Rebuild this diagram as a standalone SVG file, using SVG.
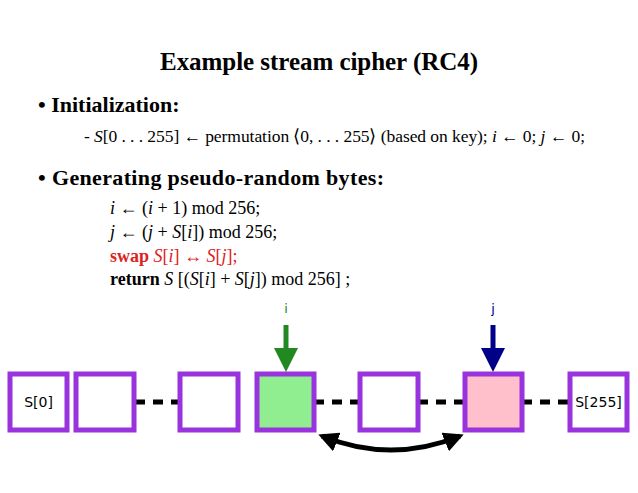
<svg xmlns="http://www.w3.org/2000/svg" width="638" height="493" viewBox="0 0 638 493">
<style>
.t{font-family:"Liberation Serif",serif;fill:#000}
.b{font-weight:bold}
.m{font-style:italic}
.box{fill:#fff;stroke:#9933dd;stroke-width:5}
.lbl{font-family:"DejaVu Sans",sans-serif;font-size:14px;text-anchor:middle}
.dash{stroke:#000;stroke-width:5;stroke-dasharray:10,8;fill:none}
</style>
<defs>
<marker id="ah" viewBox="0 0 10 10" refX="8" refY="5" markerWidth="4" markerHeight="4" orient="auto-start-reverse"><path d="M0,0L10,5L0,10z" fill="#000"/></marker>
</defs>
<rect width="638" height="493" fill="#fff"/>
<text class="t b" x="319" y="70" font-size="25" text-anchor="middle" textLength="318">Example stream cipher (RC4)</text>
<text class="t b" x="38" y="112" font-size="22">• Initialization:</text>
<text class="t" x="84" y="142" font-size="17.5" textLength="501">- <tspan class="m">S</tspan>[0 . . . 255] ← permutation ⟨0, . . . 255⟩ (based on key); <tspan class="m">i</tspan> ← 0; <tspan class="m">j</tspan> ← 0;</text>
<text class="t b" x="38" y="185" font-size="22" textLength="346">• Generating pseudo-random bytes:</text>
<g class="t" font-size="18">
<text x="110" y="214"><tspan class="m">i</tspan> ← (<tspan class="m">i</tspan> + 1) mod 256;</text>
<text x="110" y="238"><tspan class="m">j</tspan> ← (<tspan class="m">j</tspan> + <tspan class="m">S</tspan>[<tspan class="m">i</tspan>]) mod 256;</text>
<text x="110" y="262" style="fill:#dd2222"><tspan class="b">swap</tspan> <tspan class="m">S</tspan>[<tspan class="m">i</tspan>] ↔ <tspan class="m">S</tspan>[<tspan class="m">j</tspan>];</text>
<text x="110" y="285"><tspan class="b">return</tspan> <tspan class="m">S</tspan> [(<tspan class="m">S</tspan>[<tspan class="m">i</tspan>] + <tspan class="m">S</tspan>[<tspan class="m">j</tspan>]) mod 256] ;</text>
</g>
<g id="connectors">
<path class="dash" d="M135,402H180M314,402H360M418,402H465M522,402H570"/>
<line x1="286" y1="325" x2="286" y2="360" stroke="#228822" stroke-width="5"/>
<path d="M274,348L298,348L286,372z" fill="#228822"/>
<line x1="493" y1="325" x2="493" y2="360" stroke="#000088" stroke-width="5"/>
<path d="M481,348L505,348L493,372z" fill="#000088"/>
<path d="M322,436Q391,464 460,436" fill="none" stroke="#000" stroke-width="5" marker-start="url(#ah)" marker-end="url(#ah)"/>
</g>
<text x="286" y="313" font-family="DejaVu Sans,sans-serif" font-size="13" fill="#228822" text-anchor="middle">i</text>
<text x="493" y="313" font-family="DejaVu Sans,sans-serif" font-size="13" fill="#000088" text-anchor="middle">j</text>
<g id="s0"><rect class="box" x="10" y="374" width="57" height="56"/><text class="lbl" x="38.5" y="407">S[0]</text></g>
<g id="s1"><rect class="box" x="76" y="374" width="58" height="56"/></g>
<g id="s2"><rect class="box" x="180" y="374" width="58" height="56"/></g>
<g id="si"><rect class="box" x="257" y="374" width="57" height="56" style="fill:#90ee90"/></g>
<g id="s4"><rect class="box" x="360" y="374" width="58" height="56"/></g>
<g id="sj"><rect class="box" x="465" y="374" width="57" height="56" style="fill:#ffc0cb"/></g>
<g id="s255"><rect class="box" x="570" y="374" width="57" height="56"/><text class="lbl" x="598.5" y="407">S[255]</text></g>
</svg>
